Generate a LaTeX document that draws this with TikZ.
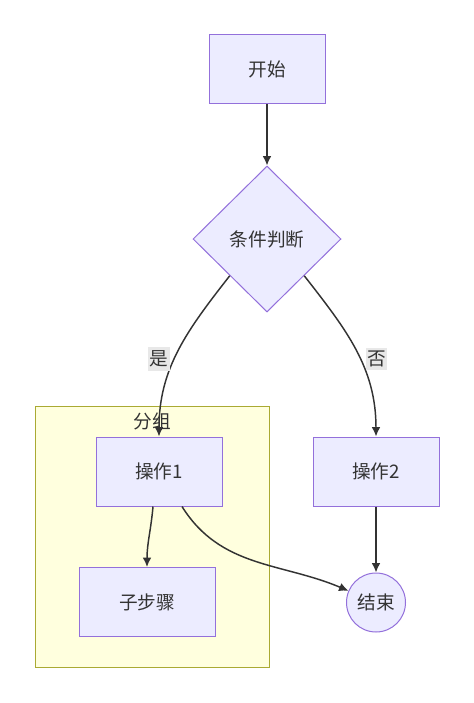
\documentclass[tikz,border=0pt]{standalone}
\usepackage{fontspec}
\newfontfamily\cjk{Noto Sans CJK SC}
\usepackage{tikz}
\usetikzlibrary{shapes}
\usetikzlibrary{arrows.meta,positioning}
\definecolor{nodefill}{HTML}{ECECFF}
\definecolor{nodeline}{HTML}{9370DB}
\definecolor{grpfill}{HTML}{FFFFDE}
\definecolor{grpline}{HTML}{AAAA33}
\definecolor{txt}{HTML}{333333}
\definecolor{lblfill}{HTML}{E8E8E8}
\tikzstyle{box}=[rectangle, fill=nodefill, draw=nodeline, line width=0.75pt, text=txt, font=\cjk\fontsize{14}{16}\selectfont, minimum width=94.5pt, minimum height=51.75pt]
\tikzstyle{cond}=[diamond, aspect=1, fill=nodefill, draw=nodeline, line width=0.75pt, text=txt, font=\cjk\fontsize{14}{16}\selectfont, minimum width=111pt, minimum height=109.5pt, inner sep=0pt]
\tikzstyle{fin}=[circle, fill=nodefill, draw=nodeline, line width=0.75pt, text=txt, font=\cjk\fontsize{14}{16}\selectfont, minimum size=44.25pt, inner sep=0pt]
\tikzstyle{grp}=[rectangle, fill=grpfill, draw=grpline, line width=0.75pt, minimum width=175.5pt, minimum height=195.75pt]
\tikzstyle{lbl}=[fill=lblfill, text=txt, font=\cjk\fontsize{14}{16}\selectfont, inner xsep=1pt, inner ysep=2.5pt]

\begin{document}
\begin{tikzpicture}[>={Latex[length=7pt,width=6.5pt]}, x=0.75pt, y=0.75pt]
  \useasboundingbox (0,0) rectangle (474,-703);
%
  \node[grp] (g) at (152,-536.5) {};
  \node[text=txt, font=\cjk\fontsize{14}{16}\selectfont] (gt) at (152,-421) {分组};
%
  \node[box, minimum width=87pt] (start) at (267,-69) {开始};
  \node[cond] (dec) at (267,-239) {条件判断};
  \node[box] (op1) at (159,-471.5) {操作1};
  \node[box] (op2) at (376,-471.5) {操作2};
  \node[box, minimum width=102pt] (sub) at (147,-602) {子步骤};
  \node[fin] (stop) at (376,-602.5) {结束};
 \path[every edge/.style={draw=txt, line width=1.1pt, ->}]
	(start) edge (dec)
	(dec.south west) edge[out=-128, in=90] (op1.north)
	(dec.south east) edge[out=-52, in=90] (op2.north)
	([xshift=-4.5pt]op1.south) edge[out=-95, in=90] (sub.north)
	([xshift=17.25pt]op1.south) edge[out=-58, in=157] (stop)
	(op2) edge (stop);
%
  \node[lbl] (yes) at (159,-359) {是};
  \node[lbl] (no) at (376.5,-359) {否};
\end{tikzpicture}
\end{document}
